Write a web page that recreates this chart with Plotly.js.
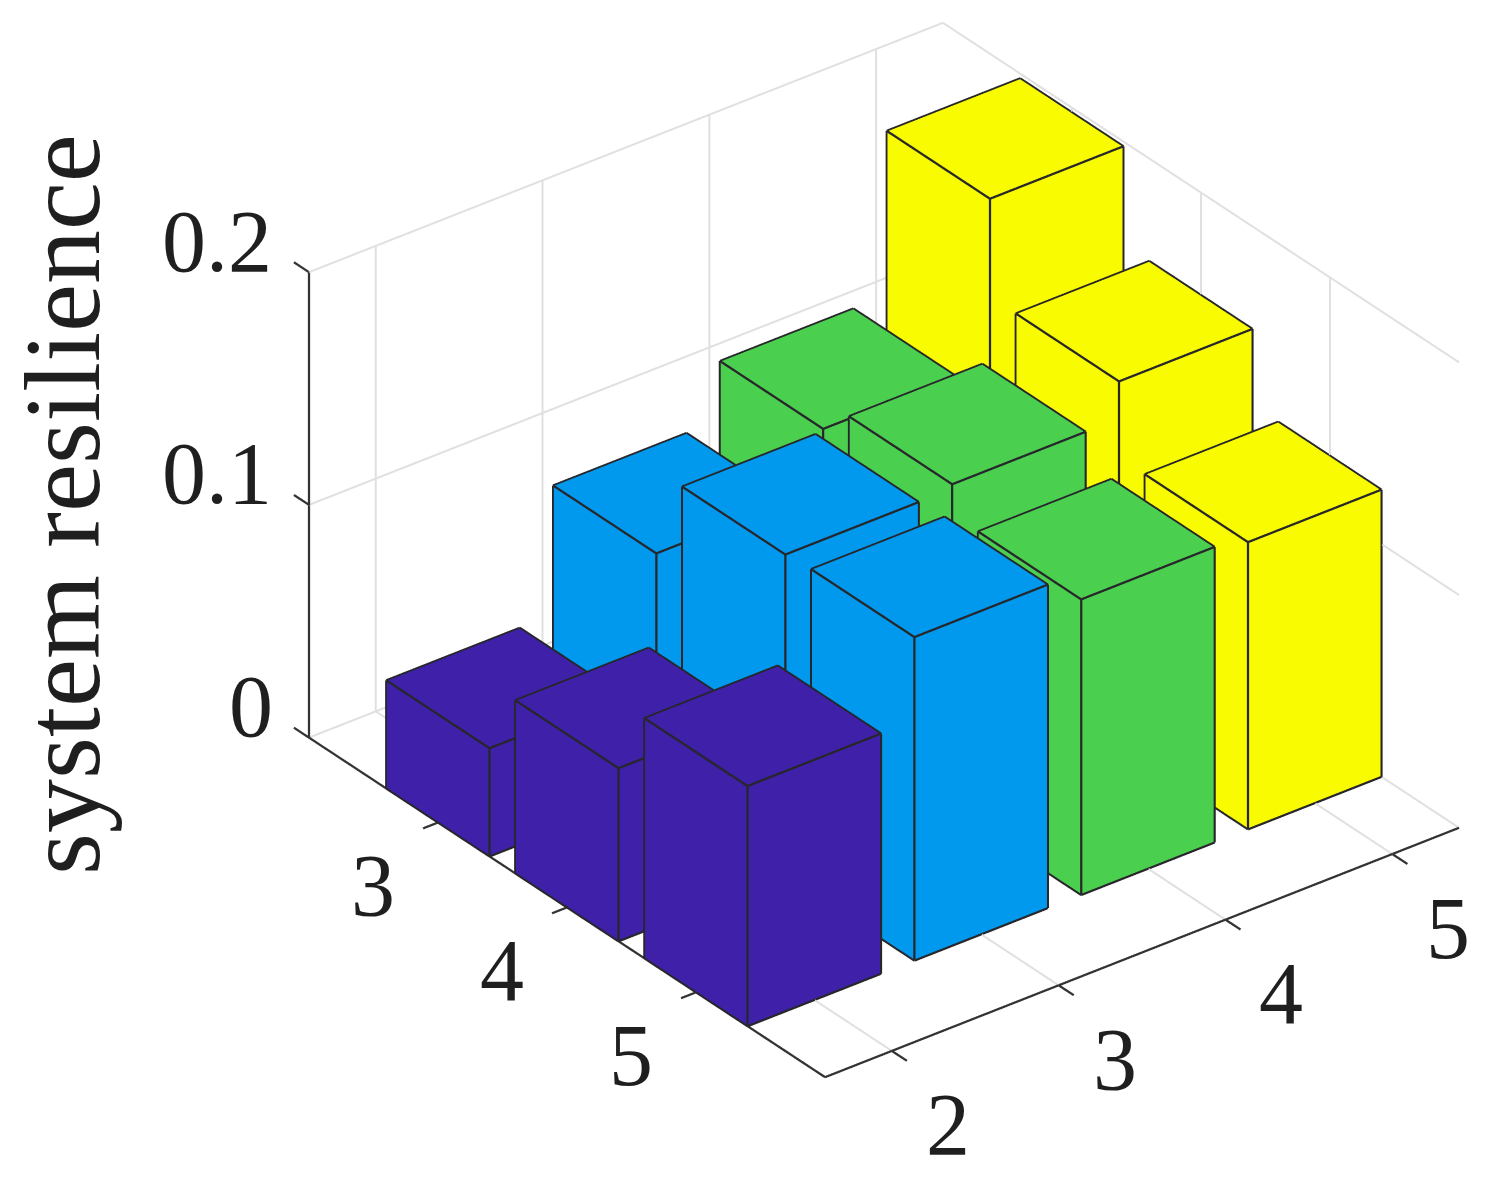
<!DOCTYPE html>
<html><head><meta charset="utf-8">
<script src="https://cdn.plot.ly/plotly-3.0.1.min.js"></script>
<style>html,body{margin:0;padding:0;background:#fff}</style></head>
<body><div id="chart" style="width:1495px;height:1177px"></div>
<script>
const xCats=[2,3,4,5];
const yCats=[3,4,5];
const zTicks=[0,0.1,0.2];
const zTickText=['0','0.1','0.2'];
const seriesX2=[0.0465,0.0744,0.1032];
const seriesX3=[0.102,0.138,0.139];
const seriesX4=[0.1273,0.140,0.127];
const seriesX5=[0.198,0.156,0.1234];
const colors=['#3F20A9','#0099EE','#4BCF4F','#F9FB00'];
const allSeries=[seriesX2,seriesX3,seriesX4,seriesX5];
const barW=0.4;
const xBox=[1.6,5.4], yBox=[2,6], zBox=[0,0.2];
const xRange=[1.48,5.52], yRange=[6.14,1.86], zRange=[-0.002,0.202];
const FONT='"Liberation Serif",serif', TC='#1f1f1f';
const traces=[];
const ex=[],ey=[],ez=[];
const off=[-0.003,0.003,0.0002];
xCats.forEach((xc,si)=>{
  const X=[],Y=[],Z=[],I=[],J=[],K=[];
  yCats.forEach((yc,bi)=>{
    const h=allSeries[si][bi], o=X.length;
    for(const zz of [0,h]) for(const [a,b] of [[-1,-1],[1,-1],[1,1],[-1,1]]){
      X.push(xc+a*barW);Y.push(yc+b*barW);Z.push(zz);
    }
    [[0,1,2],[0,2,3],[4,5,6],[4,6,7],[0,1,5],[0,5,4],[1,2,6],[1,6,5],[2,3,7],[2,7,6],[3,0,4],[3,4,7]]
      .forEach(t=>{I.push(o+t[0]);J.push(o+t[1]);K.push(o+t[2]);});
    [[0,1],[1,2],[2,3],[3,0],[4,5],[5,6],[6,7],[7,4],[0,4],[1,5],[2,6],[3,7]].forEach(e=>{
      ex.push(X[o+e[0]]+off[0],X[o+e[1]]+off[0],null);
      ey.push(Y[o+e[0]]+off[1],Y[o+e[1]]+off[1],null);
      ez.push(Z[o+e[0]]+off[2],Z[o+e[1]]+off[2],null);
    });
  });
  traces.push({type:'mesh3d',x:X,y:Y,z:Z,i:I,j:J,k:K,color:colors[si],opacity:1,flatshading:true,
    lighting:{ambient:1,diffuse:0,specular:0,fresnel:0,roughness:1},hoverinfo:'skip',showscale:false});
});
traces.push({type:'scatter3d',mode:'lines',x:ex,y:ey,z:ez,line:{color:'#26262b',width:4.5},hoverinfo:'skip',showlegend:false});
// grid lines on the floor and the two back walls
const gx=[],gy=[],gz=[];
const seg=(a,b,c,d,e,f)=>{gx.push(a,b,null);gy.push(c,d,null);gz.push(e,f,null);};
xCats.forEach(v=>{seg(v,v,yBox[0],yBox[1],0,0);seg(v,v,yBox[0],yBox[0],zBox[0],zBox[1]);});
yCats.forEach(v=>{seg(xBox[0],xBox[1],v,v,0,0);seg(xBox[1],xBox[1],v,v,zBox[0],zBox[1]);});
zTicks.forEach(v=>{seg(xBox[0],xBox[1],yBox[0],yBox[0],v,v);seg(xBox[1],xBox[1],yBox[0],yBox[1],v,v);});
traces.push({type:'scatter3d',mode:'lines',x:gx,y:gy,z:gz,line:{color:'#e0e0e0',width:4},hoverinfo:'skip',showlegend:false});
// axis lines and outward tick marks
const ax=[xBox[0],xBox[1],null, xBox[0],xBox[0],null, xBox[0],xBox[0],null];
const ay=[yBox[1],yBox[1],null, yBox[0],yBox[1],null, yBox[0],yBox[0],null];
const az=[0,0,null, 0,0,null, zBox[0],zBox[1],null];
xCats.forEach(v=>{ax.push(v,v,null);ay.push(yBox[1],yBox[1]+0.117,null);az.push(0,0,null);});
yCats.forEach(v=>{ax.push(xBox[0],xBox[0]-0.09,null);ay.push(v,v,null);az.push(0,0,null);});
zTicks.forEach(v=>{ax.push(xBox[0],xBox[0],null);ay.push(yBox[0],yBox[0]-0.117,null);az.push(v,v,null);});
traces.push({type:'scatter3d',mode:'lines',x:ax,y:ay,z:az,line:{color:'#333',width:4.5},hoverinfo:'skip',showlegend:false});
const axisBase={showbackground:false,showspikes:false,zeroline:false,showgrid:false,
  showline:false,ticks:'',showticklabels:false,title:{text:''}};
const ann=[];
const lf={family:FONT,size:88,color:TC};
xCats.forEach(v=>ann.push({x:v,y:yBox[1],z:0,text:String(v),showarrow:false,xshift:56,yshift:-74,font:lf}));
yCats.forEach(v=>ann.push({x:xBox[0],y:v,z:0,text:String(v),showarrow:false,xshift:-65,yshift:-63,font:lf}));
zTicks.forEach((v,n)=>ann.push({x:xBox[0],y:yBox[0],z:v,text:zTickText[n],showarrow:false,xshift:(v===0?-58:-92),yshift:31,font:lf}));
const r=2, d=[-0.5266,-0.681,0.5087];
const layout={width:1495,height:1177,margin:{l:0,r:0,t:0,b:0},paper_bgcolor:'#fff',showlegend:false,
  scene:{domain:{x:[284/1495,1484/1495],y:[77/1177,1177/1177]},
    aspectmode:'manual',aspectratio:{x:1.549,y:1.6414,z:1.0027},
    camera:{projection:{type:'orthographic'},up:{x:0,y:0,z:1},center:{x:0,y:0,z:0},eye:{x:d[0]*r,y:d[1]*r,z:d[2]*r}},
    xaxis:Object.assign({},axisBase,{range:xRange,tickvals:xCats,ticktext:xCats.map(String)}),
    yaxis:Object.assign({},axisBase,{range:yRange,tickvals:yCats,ticktext:yCats.map(String)}),
    zaxis:Object.assign({},axisBase,{range:zRange,tickvals:zTicks,ticktext:zTickText}),
    annotations:ann},
  annotations:[{xref:'paper',yref:'paper',x:62/1495,y:1-505/1177,xanchor:'center',yanchor:'middle',text:'system resilience',textangle:-90,showarrow:false,font:{family:FONT,size:108,color:TC}}]};
Plotly.newPlot('chart',traces,layout,{displayModeBar:false});
</script></body></html>
